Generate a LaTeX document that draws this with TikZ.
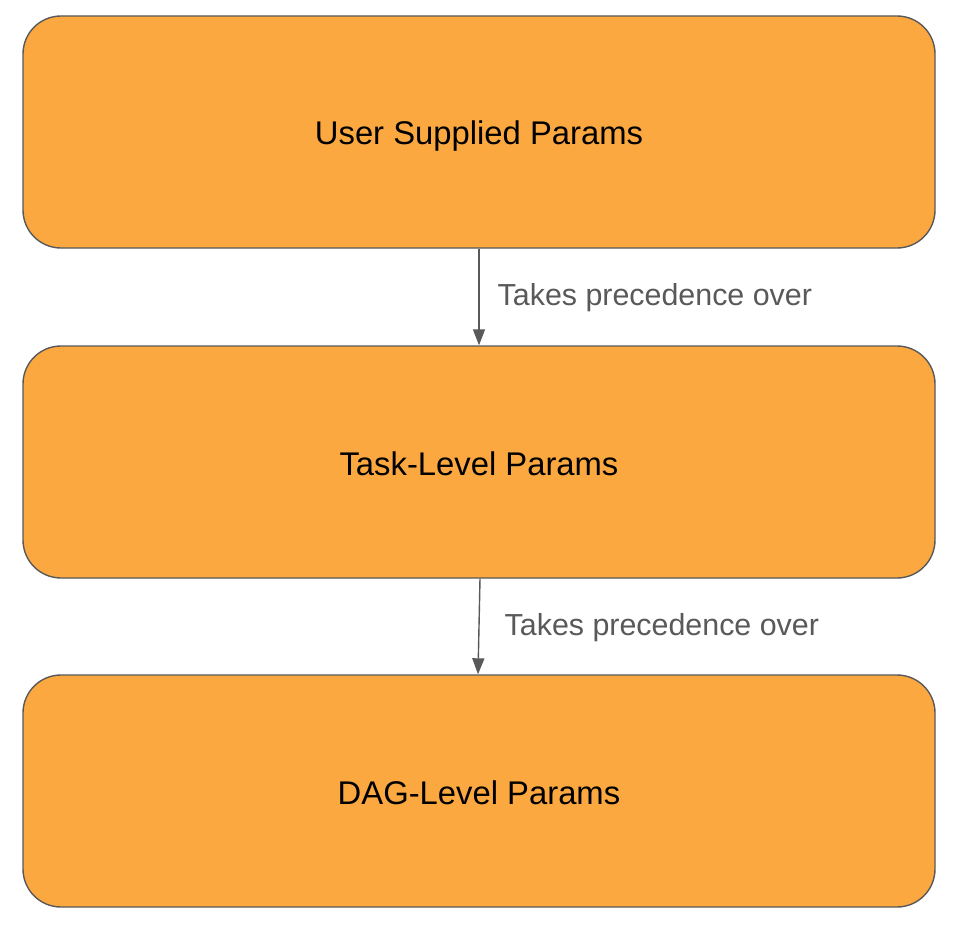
\documentclass[tikz,border=0pt]{standalone}
\usepackage{fontspec}
\setmainfont{Liberation Sans}
\usetikzlibrary{arrows.meta}
\definecolor{boxfill}{HTML}{FCA840}
\definecolor{edgegray}{HTML}{595959}
\begin{document}
\begin{tikzpicture}[x=1pt,y=-1pt,
  levelbox/.style={draw=edgegray,line width=1.4pt,fill=boxfill,rounded corners=38pt,
    minimum width=912pt,minimum height=232pt,inner sep=0pt,
    text height=26pt,text depth=0pt,
    font=\fontsize{32.8}{38}\selectfont,text=black},
  conn/.style={draw=edgegray,line width=1.4pt,-{Triangle[length=16pt,width=12pt]}},
  conlabel/.style={anchor=base west,inner sep=0pt,text=edgegray,font=\fontsize{30.4}{36}\selectfont}]
\useasboundingbox[fill=white] (0,0) rectangle (969,931);
\node[levelbox] (user) at (479,132) {User Supplied Params};
\node[levelbox] (task) at (479,462) {Task-Level Params};
\node[levelbox] (dag) at (479,791) {DAG-Level Params};
\draw[conn] (user.south) -- (task.north);
\draw[conn] ([xshift=1pt]task.south) -- ([xshift=-1pt]dag.north);
\node[conlabel] (l1) at (497.5,305) {Takes precedence over};
\node[conlabel] (l2) at (504.5,635) {Takes precedence over};
\end{tikzpicture}
\end{document}
